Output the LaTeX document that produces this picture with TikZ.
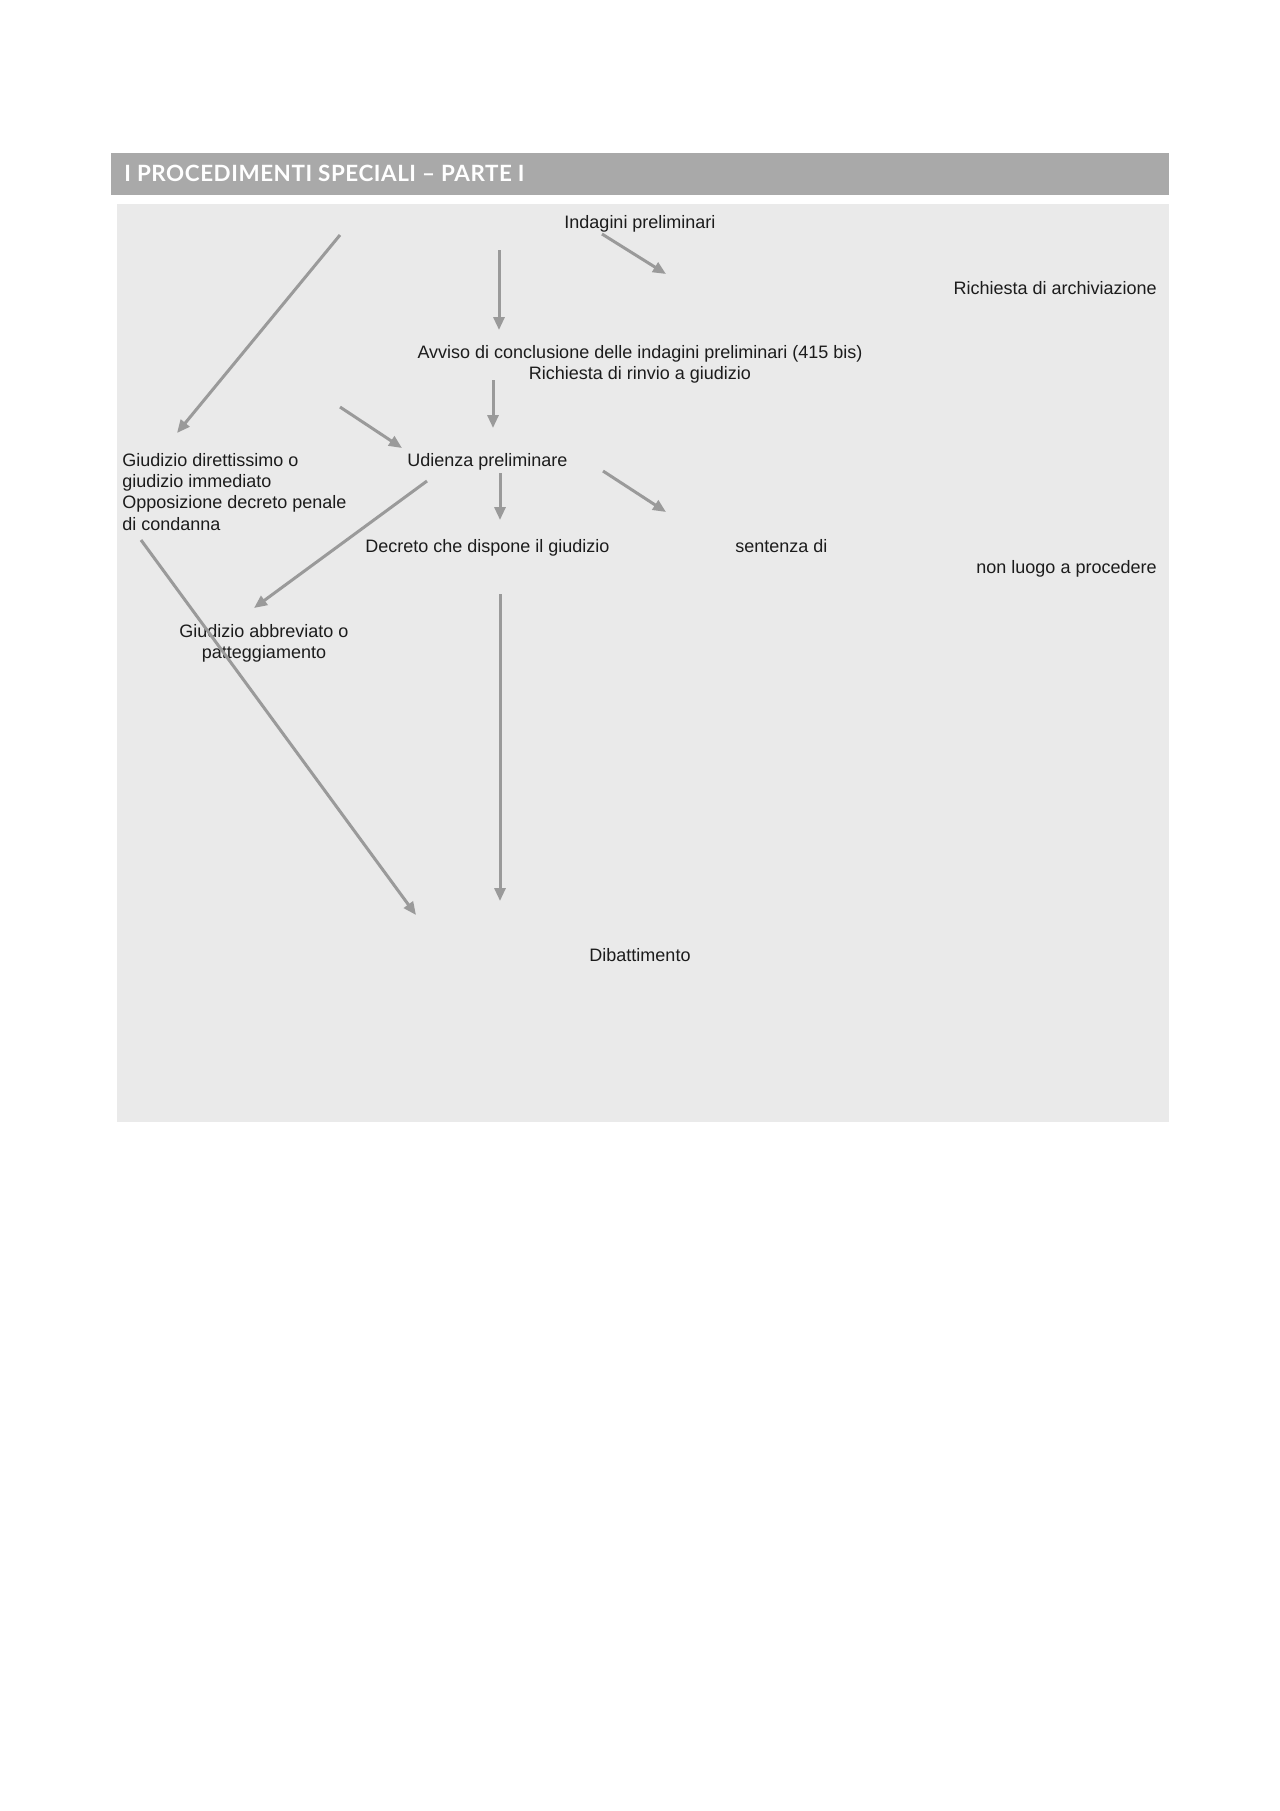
\documentclass[tikz,border=0pt]{standalone}
\usepackage{fontspec}
\setmainfont{Liberation Sans}
\newfontfamily\headfont[LetterSpace=2.5]{Lato}
\usetikzlibrary{arrows.meta}
\definecolor{barcol}{HTML}{A9A9A9}
\definecolor{panelcol}{HTML}{EAEAEA}
\definecolor{arrcol}{HTML}{9A9A9A}
\definecolor{txtcol}{HTML}{1C1C1C}
\tikzset{
  lbl/.style={inner sep=0pt, text=txtcol, font=\fontsize{9pt}{10.6pt}\selectfont},
  flow/.style={draw=arrcol, line width=1.5pt, -{Triangle[length=6.5pt,width=5.5pt]}},
  headtxt/.style={inner sep=0pt, text=white, font=\headfont\bfseries\fontsize{11.2pt}{13pt}\selectfont}
}
\begin{document}
\begin{tikzpicture}[x=0.5pt,y=-0.5pt]
\useasboundingbox[fill=white] (0,0) rectangle (1280,1811);
% header bar and panel
\fill[barcol] (111,153) rectangle (1169,195);
\fill[panelcol] (117,204) rectangle (1169,1122);
\node[headtxt, anchor=base west] (head) at (124,181) {I PROCEDIMENTI SPECIALI – PARTE I};
% texts
\node[lbl, anchor=base] (indagini) at (640,228) {Indagini preliminari};
\node[lbl, anchor=base east] (archiv) at (1157,294) {Richiesta di archiviazione};
\node[lbl, anchor=north, align=center] (avviso) at (640,345) {Avviso di conclusione delle indagini preliminari (415 bis)\\Richiesta di rinvio a giudizio};
\node[lbl, anchor=north west, align=left] (direttissimo) at (122,453) {Giudizio direttissimo o\\giudizio immediato\\Opposizione decreto penale\\di condanna};
\node[lbl, anchor=base west] (udienza) at (407,466) {Udienza preliminare};
\node[lbl, anchor=base west] (decreto) at (365,552) {Decreto che dispone il giudizio};
\node[lbl, anchor=base west] (sentenza) at (735,552) {sentenza di};
\node[lbl, anchor=base east] (nonluogo) at (1157,573) {non luogo a procedere};
\node[lbl, anchor=north, align=center] (abbreviato) at (264,624) {Giudizio abbreviato o\\patteggiamento};
\node[lbl, anchor=base] (dibatt) at (640,961) {Dibattimento};
% arrow end points
\coordinate (a1s) at (602,234); \coordinate (a1e) at (666,274);
\coordinate (a2s) at (499,250); \coordinate (a2e) at (499,330);
\coordinate (a3s) at (340,235); \coordinate (a3e) at (177,433);
\coordinate (a4s) at (493,380); \coordinate (a4e) at (493,428);
\coordinate (a5s) at (340,407); \coordinate (a5e) at (402,448);
\coordinate (a6s) at (500,473); \coordinate (a6e) at (500,520);
\coordinate (a7s) at (603,471); \coordinate (a7e) at (666,512);
\coordinate (a8s) at (427,481); \coordinate (a8e) at (254,608);
\coordinate (a9s) at (141,540); \coordinate (a9e) at (416,915);
\coordinate (a10s) at (500,594); \coordinate (a10e) at (500,901);
% arrows
\draw[flow] (a1s) -- (a1e);
\draw[flow] (a2s) -- (a2e);
\draw[flow] (a3s) -- (a3e);
\draw[flow] (a4s) -- (a4e);
\draw[flow] (a5s) -- (a5e);
\draw[flow] (a6s) -- (a6e);
\draw[flow] (a7s) -- (a7e);
\draw[flow] (a8s) -- (a8e);
\draw[flow] (a9s) -- (a9e);
\draw[flow] (a10s) -- (a10e);
\end{tikzpicture}
\end{document}
